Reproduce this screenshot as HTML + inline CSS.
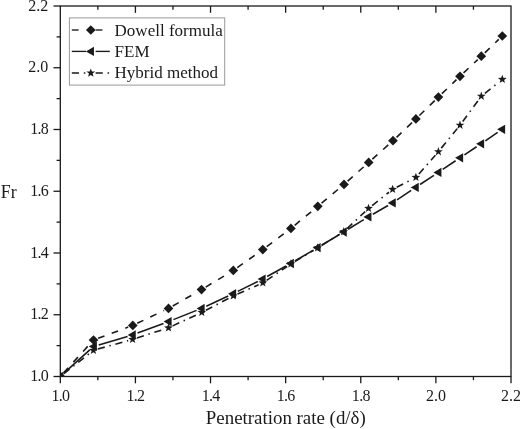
<!DOCTYPE html>
<html><head><meta charset="utf-8"><title>Fr vs penetration rate</title>
<style>
html,body{margin:0;padding:0;background:#fff;}
svg{display:block;}
text{font-family:"Liberation Serif","Times New Roman",serif;fill:#1a1a1a;}
</style></head><body>
<svg width="520" height="429" viewBox="0 0 520 429">
<rect width="520" height="429" fill="#fff"/>
<defs><clipPath id="pc"><rect x="60.3" y="6.0" width="450.7" height="370.5"/></clipPath></defs>

<g clip-path="url(#pc)"><g stroke="#1a1a1a" stroke-width="1.6" fill="none">
<line x1="63.60" y1="372.88" x2="90.20" y2="343.62" stroke-dasharray="6.8 7.7"/>
<line x1="98.09" y1="338.29" x2="128.21" y2="327.11" stroke-dasharray="6.8 7.7"/>
<line x1="137.22" y1="323.29" x2="164.08" y2="310.51" stroke-dasharray="6.8 7.7"/>
<line x1="172.76" y1="305.97" x2="197.24" y2="292.03" stroke-dasharray="6.8 7.7"/>
<line x1="205.69" y1="287.07" x2="229.11" y2="272.93" stroke-dasharray="6.8 7.7"/>
<line x1="237.30" y1="267.58" x2="258.80" y2="252.42" stroke-dasharray="6.8 7.7"/>
<line x1="266.71" y1="246.65" x2="286.99" y2="231.35" stroke-dasharray="6.8 7.7"/>
<line x1="294.69" y1="225.29" x2="314.01" y2="209.41" stroke-dasharray="6.8 7.7"/>
<line x1="321.56" y1="203.16" x2="340.24" y2="187.54" stroke-dasharray="6.8 7.7"/>
<line x1="347.66" y1="181.14" x2="365.04" y2="165.66" stroke-dasharray="6.8 7.7"/>
<line x1="372.35" y1="159.14" x2="389.35" y2="143.96" stroke-dasharray="6.8 7.7"/>
<line x1="396.55" y1="137.32" x2="412.35" y2="122.28" stroke-dasharray="6.8 7.7"/>
<line x1="419.42" y1="115.49" x2="434.88" y2="100.51" stroke-dasharray="6.8 7.7"/>
<line x1="441.93" y1="93.70" x2="456.47" y2="79.70" stroke-dasharray="6.8 7.7"/>
<line x1="463.56" y1="72.94" x2="477.74" y2="59.56" stroke-dasharray="6.8 7.7"/>
<line x1="484.83" y1="52.80" x2="498.77" y2="39.40" stroke-dasharray="6.8 7.7"/>
<line x1="64.24" y1="372.95" x2="89.76" y2="349.95"/>
<line x1="98.78" y1="344.90" x2="127.52" y2="336.40"/>
<line x1="137.57" y1="333.06" x2="163.53" y2="323.44"/>
<line x1="173.42" y1="319.63" x2="196.58" y2="310.37"/>
<line x1="206.30" y1="306.16" x2="228.20" y2="295.94"/>
<line x1="237.75" y1="291.35" x2="257.75" y2="281.45"/>
<line x1="267.14" y1="276.53" x2="286.06" y2="266.07"/>
<line x1="295.27" y1="260.81" x2="312.93" y2="250.39"/>
<line x1="322.04" y1="244.97" x2="339.06" y2="234.73"/>
<line x1="348.12" y1="229.24" x2="363.78" y2="219.66"/>
<line x1="372.89" y1="214.25" x2="388.01" y2="205.55"/>
<line x1="397.00" y1="199.94" x2="411.20" y2="190.36"/>
<line x1="420.02" y1="184.48" x2="433.88" y2="175.32"/>
<line x1="442.70" y1="169.44" x2="455.60" y2="160.76"/>
<line x1="464.41" y1="154.86" x2="476.59" y2="146.74"/>
<line x1="485.36" y1="140.79" x2="497.64" y2="132.31"/>
<line x1="63.91" y1="373.65" x2="89.79" y2="353.15" stroke-dasharray="7.2 4.8 1.5 4.8"/>
<line x1="97.83" y1="349.07" x2="128.17" y2="340.63" stroke-dasharray="7.2 4.8 1.5 4.8"/>
<line x1="136.98" y1="337.99" x2="164.12" y2="329.21" stroke-dasharray="7.2 4.8 1.5 4.8"/>
<line x1="172.68" y1="325.87" x2="197.62" y2="314.33" stroke-dasharray="7.2 4.8 1.5 4.8"/>
<line x1="205.87" y1="310.27" x2="229.23" y2="298.03" stroke-dasharray="7.2 4.8 1.5 4.8"/>
<line x1="237.51" y1="294.05" x2="258.59" y2="284.75" stroke-dasharray="7.2 4.8 1.5 4.8"/>
<line x1="266.61" y1="280.32" x2="287.09" y2="266.48" stroke-dasharray="7.2 4.8 1.5 4.8"/>
<line x1="294.85" y1="261.54" x2="313.65" y2="250.26" stroke-dasharray="7.2 4.8 1.5 4.8"/>
<line x1="321.51" y1="245.47" x2="339.79" y2="234.13" stroke-dasharray="7.2 4.8 1.5 4.8"/>
<line x1="347.05" y1="228.55" x2="365.15" y2="211.55" stroke-dasharray="7.2 4.8 1.5 4.8"/>
<line x1="372.11" y1="205.55" x2="388.99" y2="192.25" stroke-dasharray="7.2 4.8 1.5 4.8"/>
<line x1="396.69" y1="187.29" x2="411.81" y2="179.51" stroke-dasharray="7.2 4.8 1.5 4.8"/>
<line x1="418.93" y1="173.94" x2="435.37" y2="155.16" stroke-dasharray="7.2 4.8 1.5 4.8"/>
<line x1="441.31" y1="148.13" x2="457.09" y2="128.77" stroke-dasharray="7.2 4.8 1.5 4.8"/>
<line x1="462.72" y1="121.49" x2="478.58" y2="99.91" stroke-dasharray="7.2 4.8 1.5 4.8"/>
<line x1="484.89" y1="93.33" x2="498.71" y2="82.27" stroke-dasharray="7.2 4.8 1.5 4.8"/>
</g><g fill="#1a1a1a">
<path d="M55.45 376.50L60.30 371.65L65.15 376.50L60.30 381.35Z"/>
<path d="M88.65 340.00L93.50 335.15L98.35 340.00L93.50 344.85Z"/>
<path d="M127.95 325.40L132.80 320.55L137.65 325.40L132.80 330.25Z"/>
<path d="M163.65 308.40L168.50 303.55L173.35 308.40L168.50 313.25Z"/>
<path d="M196.65 289.60L201.50 284.75L206.35 289.60L201.50 294.45Z"/>
<path d="M228.45 270.40L233.30 265.55L238.15 270.40L233.30 275.25Z"/>
<path d="M257.95 249.60L262.80 244.75L267.65 249.60L262.80 254.45Z"/>
<path d="M286.05 228.40L290.90 223.55L295.75 228.40L290.90 233.25Z"/>
<path d="M312.95 206.30L317.80 201.45L322.65 206.30L317.80 211.15Z"/>
<path d="M339.15 184.40L344.00 179.55L348.85 184.40L344.00 189.25Z"/>
<path d="M363.85 162.40L368.70 157.55L373.55 162.40L368.70 167.25Z"/>
<path d="M388.15 140.70L393.00 135.85L397.85 140.70L393.00 145.55Z"/>
<path d="M411.05 118.90L415.90 114.05L420.75 118.90L415.90 123.75Z"/>
<path d="M433.55 97.10L438.40 92.25L443.25 97.10L438.40 101.95Z"/>
<path d="M455.15 76.30L460.00 71.45L464.85 76.30L460.00 81.15Z"/>
<path d="M476.45 56.20L481.30 51.35L486.15 56.20L481.30 61.05Z"/>
<path d="M497.45 36.00L502.30 31.15L507.15 36.00L502.30 40.85Z"/>
<path d="M55.40 376.50L63.45 371.85L63.45 381.15Z"/>
<path d="M88.80 346.40L96.85 341.75L96.85 351.05Z"/>
<path d="M127.70 334.90L135.75 330.25L135.75 339.55Z"/>
<path d="M163.60 321.60L171.65 316.95L171.65 326.25Z"/>
<path d="M196.60 308.40L204.65 303.75L204.65 313.05Z"/>
<path d="M228.10 293.70L236.15 289.05L236.15 298.35Z"/>
<path d="M257.60 279.10L265.65 274.45L265.65 283.75Z"/>
<path d="M285.80 263.50L293.85 258.85L293.85 268.15Z"/>
<path d="M312.60 247.70L320.65 243.05L320.65 252.35Z"/>
<path d="M338.70 232.00L346.75 227.35L346.75 236.65Z"/>
<path d="M363.40 216.90L371.45 212.25L371.45 221.55Z"/>
<path d="M387.70 202.90L395.75 198.25L395.75 207.55Z"/>
<path d="M410.70 187.40L418.75 182.75L418.75 192.05Z"/>
<path d="M433.40 172.40L441.45 167.75L441.45 177.05Z"/>
<path d="M455.10 157.80L463.15 153.15L463.15 162.45Z"/>
<path d="M476.10 143.80L484.15 139.15L484.15 148.45Z"/>
<path d="M497.10 129.30L505.15 124.65L505.15 133.95Z"/>
<path d="M60.30 371.90L61.42 374.96L64.67 375.08L62.11 377.09L63.00 380.22L60.30 378.40L57.60 380.22L58.49 377.09L55.93 375.08L59.18 374.96Z"/>
<path d="M93.40 345.70L94.52 348.76L97.77 348.88L95.21 350.89L96.10 354.02L93.40 352.20L90.70 354.02L91.59 350.89L89.03 348.88L92.28 348.76Z"/>
<path d="M132.60 334.80L133.72 337.86L136.97 337.98L134.41 339.99L135.30 343.12L132.60 341.30L129.90 343.12L130.79 339.99L128.23 337.98L131.48 337.86Z"/>
<path d="M168.50 323.20L169.62 326.26L172.87 326.38L170.31 328.39L171.20 331.52L168.50 329.70L165.80 331.52L166.69 328.39L164.13 326.38L167.38 326.26Z"/>
<path d="M201.80 307.80L202.92 310.86L206.17 310.98L203.61 312.99L204.50 316.12L201.80 314.30L199.10 316.12L199.99 312.99L197.43 310.98L200.68 310.86Z"/>
<path d="M233.30 291.30L234.42 294.36L237.67 294.48L235.11 296.49L236.00 299.62L233.30 297.80L230.60 299.62L231.49 296.49L228.93 294.48L232.18 294.36Z"/>
<path d="M262.80 278.30L263.92 281.36L267.17 281.48L264.61 283.49L265.50 286.62L262.80 284.80L260.10 286.62L260.99 283.49L258.43 281.48L261.68 281.36Z"/>
<path d="M290.90 259.30L292.02 262.36L295.27 262.48L292.71 264.49L293.60 267.62L290.90 265.80L288.20 267.62L289.09 264.49L286.53 262.48L289.78 262.36Z"/>
<path d="M317.60 243.30L318.72 246.36L321.97 246.48L319.41 248.49L320.30 251.62L317.60 249.80L314.90 251.62L315.79 248.49L313.23 246.48L316.48 246.36Z"/>
<path d="M343.70 227.10L344.82 230.16L348.07 230.28L345.51 232.29L346.40 235.42L343.70 233.60L341.00 235.42L341.89 232.29L339.33 230.28L342.58 230.16Z"/>
<path d="M368.50 203.80L369.62 206.86L372.87 206.98L370.31 208.99L371.20 212.12L368.50 210.30L365.80 212.12L366.69 208.99L364.13 206.98L367.38 206.86Z"/>
<path d="M392.60 184.80L393.72 187.86L396.97 187.98L394.41 189.99L395.30 193.12L392.60 191.30L389.90 193.12L390.79 189.99L388.23 187.98L391.48 187.86Z"/>
<path d="M415.90 172.80L417.02 175.86L420.27 175.98L417.71 177.99L418.60 181.12L415.90 179.30L413.20 181.12L414.09 177.99L411.53 175.98L414.78 175.86Z"/>
<path d="M438.40 147.10L439.52 150.16L442.77 150.28L440.21 152.29L441.10 155.42L438.40 153.60L435.70 155.42L436.59 152.29L434.03 150.28L437.28 150.16Z"/>
<path d="M460.00 120.60L461.12 123.66L464.37 123.78L461.81 125.79L462.70 128.92L460.00 127.10L457.30 128.92L458.19 125.79L455.63 123.78L458.88 123.66Z"/>
<path d="M481.30 91.60L482.42 94.66L485.67 94.78L483.11 96.79L484.00 99.92L481.30 98.10L478.60 99.92L479.49 96.79L476.93 94.78L480.18 94.66Z"/>
<path d="M502.30 74.80L503.42 77.86L506.67 77.98L504.11 79.99L505.00 83.12L502.30 81.30L499.60 83.12L500.49 79.99L497.93 77.98L501.18 77.86Z"/>
</g></g>
<g stroke="#1a1a1a" stroke-width="1.3" fill="none">
<rect x="60.3" y="6.0" width="450.7" height="370.5"/>
<line x1="60.30" y1="376.5" x2="60.30" y2="383.3"/>
<line x1="60.3" y1="376.50" x2="53.5" y2="376.50"/>
<line x1="97.86" y1="376.5" x2="97.86" y2="380.2"/>
<line x1="97.86" y1="6.0" x2="97.86" y2="9.7"/>
<line x1="60.3" y1="345.62" x2="56.599999999999994" y2="345.62"/>
<line x1="135.42" y1="376.5" x2="135.42" y2="383.3"/>
<line x1="135.42" y1="6.0" x2="135.42" y2="12.8"/>
<line x1="60.3" y1="314.75" x2="53.5" y2="314.75"/>
<line x1="172.97" y1="376.5" x2="172.97" y2="380.2"/>
<line x1="172.97" y1="6.0" x2="172.97" y2="9.7"/>
<line x1="60.3" y1="283.88" x2="56.599999999999994" y2="283.88"/>
<line x1="210.53" y1="376.5" x2="210.53" y2="383.3"/>
<line x1="210.53" y1="6.0" x2="210.53" y2="12.8"/>
<line x1="60.3" y1="253.00" x2="53.5" y2="253.00"/>
<line x1="248.09" y1="376.5" x2="248.09" y2="380.2"/>
<line x1="248.09" y1="6.0" x2="248.09" y2="9.7"/>
<line x1="60.3" y1="222.12" x2="56.599999999999994" y2="222.12"/>
<line x1="285.65" y1="376.5" x2="285.65" y2="383.3"/>
<line x1="285.65" y1="6.0" x2="285.65" y2="12.8"/>
<line x1="60.3" y1="191.25" x2="53.5" y2="191.25"/>
<line x1="323.21" y1="376.5" x2="323.21" y2="380.2"/>
<line x1="323.21" y1="6.0" x2="323.21" y2="9.7"/>
<line x1="60.3" y1="160.38" x2="56.599999999999994" y2="160.38"/>
<line x1="360.77" y1="376.5" x2="360.77" y2="383.3"/>
<line x1="360.77" y1="6.0" x2="360.77" y2="12.8"/>
<line x1="60.3" y1="129.50" x2="53.5" y2="129.50"/>
<line x1="398.32" y1="376.5" x2="398.32" y2="380.2"/>
<line x1="398.32" y1="6.0" x2="398.32" y2="9.7"/>
<line x1="60.3" y1="98.62" x2="56.599999999999994" y2="98.62"/>
<line x1="435.88" y1="376.5" x2="435.88" y2="383.3"/>
<line x1="435.88" y1="6.0" x2="435.88" y2="12.8"/>
<line x1="60.3" y1="67.75" x2="53.5" y2="67.75"/>
<line x1="473.44" y1="376.5" x2="473.44" y2="380.2"/>
<line x1="473.44" y1="6.0" x2="473.44" y2="9.7"/>
<line x1="60.3" y1="36.88" x2="56.599999999999994" y2="36.88"/>
<line x1="511.00" y1="376.5" x2="511.00" y2="383.3"/>
<line x1="60.3" y1="6.00" x2="53.5" y2="6.00"/>
</g>
<g font-size="16">
<text x="60.35" y="400.9" text-anchor="middle" letter-spacing="-0.7">1.0</text>
<text x="48.09" y="381.00" text-anchor="end" letter-spacing="-0.7">1.0</text>
<text x="135.47" y="400.9" text-anchor="middle" letter-spacing="-0.7">1.2</text>
<text x="48.09" y="319.25" text-anchor="end" letter-spacing="-0.7">1.2</text>
<text x="210.58" y="400.9" text-anchor="middle" letter-spacing="-0.7">1.4</text>
<text x="48.09" y="257.50" text-anchor="end" letter-spacing="-0.7">1.4</text>
<text x="285.70" y="400.9" text-anchor="middle" letter-spacing="-0.7">1.6</text>
<text x="48.09" y="195.75" text-anchor="end" letter-spacing="-0.7">1.6</text>
<text x="360.82" y="400.9" text-anchor="middle" letter-spacing="-0.7">1.8</text>
<text x="48.09" y="134.00" text-anchor="end" letter-spacing="-0.7">1.8</text>
<text x="435.88" y="400.9" text-anchor="middle">2.0</text>
<text x="48.30" y="72.25" text-anchor="end">2.0</text>
<text x="511.00" y="400.9" text-anchor="middle">2.2</text>
<text x="48.30" y="10.50" text-anchor="end">2.2</text>
</g>
<text x="285.8" y="424.4" font-size="18.9" text-anchor="middle">Penetration rate (d/δ)</text>
<text x="0.8" y="197.5" font-size="17.8">Fr</text>
<rect x="69.4" y="17.9" width="155.3" height="67.2" fill="#fff" stroke="#999" stroke-width="1"/>
<g stroke="#1a1a1a" stroke-width="1.35" fill="none">
<line x1="71.80" y1="30.00" x2="86.00" y2="30.00" stroke-dasharray="6.8 7.7"/>
<line x1="95.60" y1="30.00" x2="109.80" y2="30.00" stroke-dasharray="6.8 7.7"/>
<line x1="71.80" y1="51.40" x2="86.00" y2="51.40"/>
<line x1="95.60" y1="51.40" x2="109.80" y2="51.40"/>
<line x1="71.80" y1="73.00" x2="86.00" y2="73.00" stroke-dasharray="7.2 4.8 1.5 4.8"/>
<line x1="95.60" y1="73.00" x2="109.80" y2="73.00" stroke-dasharray="7.2 4.8 1.5 4.8"/>
</g><g fill="#1a1a1a">
<path d="M85.95 30.00L90.80 25.15L95.65 30.00L90.80 34.85Z"/>
<path d="M85.90 51.40L93.95 46.75L93.95 56.05Z"/>
<path d="M90.80 68.40L91.92 71.46L95.17 71.58L92.61 73.59L93.50 76.72L90.80 74.90L88.10 76.72L88.99 73.59L86.43 71.58L89.68 71.46Z"/>
</g>
<g font-size="17">
<text x="114.6" y="35.7">Dowell formula</text>
<text x="114.6" y="56.9">FEM</text>
<text x="114.6" y="78.2">Hybrid method</text>
</g>
</svg></body></html>
